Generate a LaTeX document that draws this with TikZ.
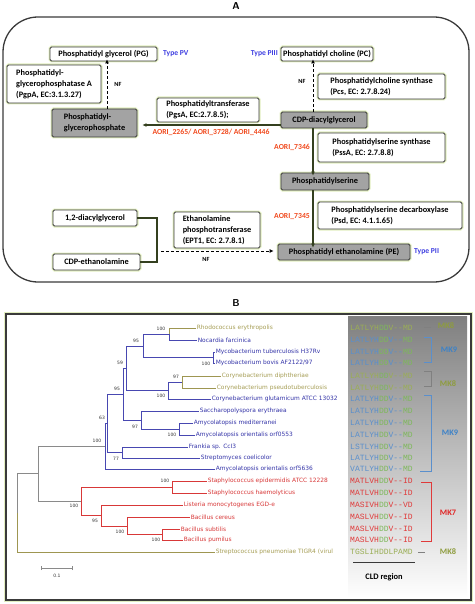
\documentclass[tikz,border=0pt]{standalone}
\usepackage{fontspec}
\setmainfont{Carlito}
\newfontfamily\treefont{DejaVu Sans}
\newfontfamily\seqfont{Liberation Mono}[Ligatures=TeXOff]
\usetikzlibrary{arrows.meta}
\definecolor{frame}{HTML}{3A3A3A}
\definecolor{glow}{HTML}{E2EEC0}
\definecolor{boxgray}{HTML}{A3A3A3}
\definecolor{arrowc}{HTML}{34401F}
\definecolor{aori}{HTML}{F04A1E}
\definecolor{typeblue}{HTML}{3F3FE0}
\definecolor{tblue}{HTML}{3434A8}
\definecolor{tolive}{HTML}{A69E55}
\definecolor{tred}{HTML}{D83838}
\definecolor{tgray}{HTML}{8A8A8A}
\definecolor{sblue}{HTML}{5A8FCC}
\definecolor{sgreen}{HTML}{7DB85A}
\definecolor{solive}{HTML}{9AAE55}
\definecolor{sred}{HTML}{E03A3A}
\definecolor{mkolive}{HTML}{8E9C3E}
\definecolor{mkblue}{HTML}{3C82C8}
\definecolor{mkred}{HTML}{E02424}
\definecolor{shade}{HTML}{EFEFEF}
\newcommand\seqviii[2]{\textcolor{solive}{#1}\textcolor{sgreen}{DD}\textcolor{solive}{#2}}
\newcommand\seqix[3]{\textcolor{sblue}{#1}\textcolor{sgreen}{DD}\textcolor{sblue}{#2}\textcolor{sgreen}{#3}}
\newcommand\seqvii[3]{\textcolor{sred}{#1}\textcolor{sgreen}{DD}\textcolor{sred}{#2#3}}
\begin{document}
\begin{tikzpicture}[x=1pt,y=-1pt,
  wbox/.style={draw=frame, fill=white, line width=0.8pt, rounded corners=1.5pt, inner sep=2pt, align=left,
     font=\fontsize{8.3}{11.2}\selectfont\bfseries, preaction={draw=glow, line width=3pt}},
  gbox/.style={wbox, fill=boxgray},
  arr/.style={draw=arrowc, line width=1.2pt, -{Latex[length=4pt,width=4pt]}},
  darr/.style={draw=black, line width=0.9pt, dash pattern=on 3pt off 2pt, -{Latex[length=4pt,width=4pt]}},
  redlbl/.style={text=aori, font=\fontsize{7.7}{8}\selectfont\bfseries, inner sep=0pt},
  typelbl/.style={text=typeblue, font=\fontsize{7.6}{8}\selectfont\bfseries, inner sep=0pt},
  nf/.style={font=\fontsize{6.3}{7}\selectfont\bfseries, inner sep=0pt},
  leaf/.style={anchor=west, inner sep=0.6pt, font=\treefont\fontsize{5.9}{6}\selectfont},
  bs/.style={inner sep=0pt, text=black!80, font=\treefont\fontsize{4.5}{5}\selectfont},
  sq/.style={anchor=west, inner sep=0pt, font=\seqfont\fontsize{8}{9}\selectfont},
  mk/.style={inner sep=0pt, font=\fontsize{8.4}{9}\selectfont\bfseries},
  bo/.style={draw=tolive!95!black, line width=0.9pt},
  bb/.style={draw=tblue!90, line width=0.9pt},
  br/.style={draw=tred, line width=0.9pt},
  bg/.style={draw=tgray, line width=0.9pt}
]
\useasboundingbox (0,0) rectangle (474,604);
% ---------------- Panel A ----------------
\node[font=\sffamily\bfseries\fontsize{10}{11}\selectfont, inner sep=0pt] (labA) at (236,6) {A};
\draw[frame, line width=1.3pt, rounded corners=35pt] (3,17) rectangle (469,282);

\node[wbox, minimum width=107pt, minimum height=14pt] (pg) at (103.5,54) {Phosphatidyl glycerol (PG)};
\node[wbox, minimum width=92pt, minimum height=14pt] (pc) at (327,54) {Phosphatidyl choline (PC)};
\node[wbox, minimum width=94pt, minimum height=38pt] (pgpa) at (54,84) {Phosphatidyl-\\glycerophosphatase A\\(PgpA, EC:3.1.3.27)};
\node[wbox, minimum width=127pt, minimum height=25pt] (pcs) at (381.5,86.5) {Phosphatidylcholine synthase\\(Pcs, EC: 2.7.8.24)};
\node[wbox, minimum width=102pt, minimum height=24pt] (pgsa) at (208,110) {Phosphatidyltransferase\\(PgsA, EC:2.7.8.5);};
\node[gbox, minimum width=85pt, minimum height=28pt] (pgp) at (94.5,123) {Phosphatidyl-\\glycerophosphate};
\node[gbox, minimum width=86pt, minimum height=16pt] (cdp) at (324,120) {CDP-diacylglycerol};
\node[wbox, minimum width=127pt, minimum height=29pt] (pssa) at (381.5,147.5) {Phosphatidylserine synthase\\(PssA, EC: 2.7.8.8)};
\node[gbox, minimum width=88pt, minimum height=17pt] (ps) at (325,181.5) {Phosphatidylserine};
\node[wbox, minimum width=144pt, minimum height=27pt] (psd) at (390,215.5) {Phosphatidylserine decarboxylase\\(Psd, EC: 4.1.1.65)};
\node[gbox, minimum width=132pt, minimum height=16pt] (pe) at (344,252) {Phosphatidyl ethanolamine (PE)};
\node[wbox, minimum width=84pt, minimum height=16pt] (dag) at (95,218) {1,2-diacylglycerol};
\node[wbox, minimum width=87pt, minimum height=16pt] (cdpe) at (96.5,262) {CDP-ethanolamine};
\node[wbox, minimum width=86pt, minimum height=36pt] (ept) at (217,230) {Ethanolamine\\phosphotransferase\\(EPT1, EC: 2.7.8.1)};

\node[typelbl, anchor=west] (tpv) at (163,54) {Type PV};
\node[typelbl, anchor=east] (tp3) at (278,54) {Type PIII};
\node[typelbl, anchor=west] (tp2) at (414,252) {Type PII};

\coordinate (vx) at (313,0);
\coordinate (px) at (107,0);
\coordinate (hy) at (0,125);
\coordinate (jn) at (157,240);
\coordinate (ds) at (161,251);

\draw[darr] (pgp.north -| px) -- ([yshift=2pt]pg.south -| px);
\draw[darr] (cdp.north -| vx) -- ([yshift=2pt]pc.south -| vx);
\draw[arr] (cdp.west |- hy) -- ([xshift=5pt]pgp.east |- hy);
\draw[arr] (cdp.south -| vx) -- ([yshift=-3pt]ps.north -| vx);
\draw[arr] (ps.south -| vx) -- ([yshift=-4pt]pe.north -| vx);
\draw[draw=arrowc, line width=1.4pt] (dag.east) -- (dag.east -| jn) -- (cdpe.east -| jn) -- (cdpe.east);
\draw[darr] (ds) -- ([xshift=-4pt]pe.west |- ds);

\node[nf] (nf1) at (118,84) {NF};
\node[nf] (nf2) at (302,81) {NF};
\node[nf] (nf3) at (206,259) {NF};
\node[redlbl] (r1) at (211,132) {AORI\_2265/ AORI\_3728/ AORI\_4446};
\node[redlbl] (r2) at (292,147) {AORI\_7346};
\node[redlbl] (r3) at (292,217) {AORI\_7345};

% ---------------- Panel B ----------------
\node[font=\sffamily\bfseries\fontsize{10}{11}\selectfont, inner sep=0pt] (labB) at (236,303) {B};
\draw[glow, line width=4pt] (6,314) rectangle (471,600);
\fill[white] (7,315) rectangle (470,599);
\fill[shade] (348,316) rectangle (467,598);
\draw[frame, line width=1.5pt] (6,314) rectangle (471,600);

% leaves
\coordinate (L1) at (196,328);  \coordinate (L2) at (197,340);
\coordinate (L3) at (215,352);  \coordinate (L4) at (215,363);
\coordinate (L5) at (221,376);  \coordinate (L6) at (216,388);
\coordinate (L7) at (211,399);  \coordinate (L8) at (199,411);
\coordinate (L9) at (193,423);  \coordinate (L10) at (195,435);
\coordinate (L11) at (188,447); \coordinate (L12) at (200,458);
\coordinate (L13) at (215,469); \coordinate (L14) at (207,481);
\coordinate (L15) at (207,493); \coordinate (L16) at (183,505);
\coordinate (L17) at (190,517); \coordinate (L18) at (180,529);
\coordinate (L19) at (183,540); \coordinate (L20) at (215,552);
% internal nodes
\coordinate (n12) at (169,334);
\coordinate (n34) at (213,357.5);
\coordinate (n1234) at (143,346);
\coordinate (n56) at (182,382);
\coordinate (n567) at (168,390.5);
\coordinate (n17) at (126,368);
\coordinate (n910) at (179,429);
\coordinate (n810) at (141,420);
\coordinate (n110) at (123,394);
\coordinate (n1112) at (122,452.5);
\coordinate (n63) at (107,423);
\coordinate (nblue) at (105,446);
\coordinate (n1415) at (172,487);
\coordinate (n1819) at (162,534.5);
\coordinate (n1719) at (127,526);
\coordinate (n1619) at (101,515.5);
\coordinate (nred) at (81,501);
\coordinate (nmain) at (38,473.5);
\coordinate (nroot) at (17,512.75);

\draw[bo] (n12) |- (L1);
\draw[bb] (n12) |- (L2);
\draw[bb] (n34) |- (L3);
\draw[bb] (n34) |- (L4);
\draw[bb] (n1234) |- (n12);
\draw[bb] (n1234) |- (n34);
\draw[bo] (n56) |- (L5);
\draw[bo] (n56) |- (L6);
\draw[bb] (n567) |- (n56);
\draw[bb] (n567) |- (L7);
\draw[bb] (n17) |- (n1234);
\draw[bb] (n17) |- (n567);
\draw[bb] (n910) |- (L9);
\draw[bb] (n910) |- (L10);
\draw[bb] (n810) |- (L8);
\draw[bb] (n810) |- (n910);
\draw[bb] (n110) |- (n17);
\draw[bb] (n110) |- (n810);
\draw[bb] (n1112) |- (L11);
\draw[bb] (n1112) |- (L12);
\draw[bb] (n63) |- (n110);
\draw[bb] (n63) |- (n1112);
\draw[bb] (nblue) |- (n63);
\draw[bb] (nblue) |- (L13);
\draw[br] (n1415) |- (L14);
\draw[br] (n1415) |- (L15);
\draw[br] (n1819) |- (L18);
\draw[br] (n1819) |- (L19);
\draw[br] (n1719) |- (L17);
\draw[br] (n1719) |- (n1819);
\draw[br] (n1619) |- (L16);
\draw[br] (n1619) |- (n1719);
\draw[br] (nred) |- (n1415);
\draw[br] (nred) |- (n1619);
\draw[bg] (nmain) |- (nblue);
\draw[bg] (nmain) |- (nred);
\draw[bg] (nroot) |- (nmain);
\draw[bo] (nroot) |- (L20);

% leaf labels
\node[leaf, text=tolive] (t1) at (L1) {Rhodococcus erythropolis};
\node[leaf, text=tblue] (t2) at (L2) {Nocardia farcinica};
\node[leaf, text=tblue] (t3) at (L3) {Mycobacterium tuberculosis H37Rv};
\node[leaf, text=tblue] (t4) at (L4) {Mycobacterium bovis AF2122/97};
\node[leaf, text=tolive] (t5) at (L5) {Corynebacterium diphtheriae};
\node[leaf, text=tolive] (t6) at (L6) {Corynebacterium pseudotuberculosis};
\node[leaf, text=tblue] (t7) at (L7) {Corynebacterium glutamicum ATCC 13032};
\node[leaf, text=tblue] (t8) at (L8) {Saccharopolyspora erythraea};
\node[leaf, text=tblue] (t9) at (L9) {Amycolatopsis mediterranei};
\node[leaf, text=tblue] (t10) at (L10) {Amycolatopsis orientalis orf0553};
\node[leaf, text=tblue] (t11) at (L11) {Frankia sp. CcI3};
\node[leaf, text=tblue] (t12) at (L12) {Streptomyces coelicolor};
\node[leaf, text=tblue] (t13) at (L13) {Amycolatopsis orientalis orf5636};
\node[leaf, text=tred] (t14) at (L14) {Staphylococcus epidermidis ATCC 12228};
\node[leaf, text=tred] (t15) at (L15) {Staphylococcus haemolyticus};
\node[leaf, text=tred] (t16) at (L16) {Listeria monocytogenes EGD-e};
\node[leaf, text=tred] (t17) at (L17) {Bacillus cereus};
\node[leaf, text=tred] (t18) at (L18) {Bacillus subtilis};
\node[leaf, text=tred] (t19) at (L19) {Bacillus pumilus};
\node[leaf, text=tolive] (t20) at (L20) {Streptococcus pneumoniae TIGR4 (virul};

% bootstrap values
\node[bs] (b1) at (161,329) {100};
\node[bs] (b2) at (206,364) {100};
\node[bs] (b3) at (136,341) {95};
\node[bs] (b4) at (176,377) {97};
\node[bs] (b5) at (161,396) {100};
\node[bs] (b6) at (120,363) {59};
\node[bs] (b7) at (172,435) {100};
\node[bs] (b8) at (135,427) {97};
\node[bs] (b9) at (117,389) {95};
\node[bs] (b10) at (116,459) {77};
\node[bs] (b11) at (102,418) {63};
\node[bs] (b12) at (97,441) {100};
\node[bs] (b13) at (165,481) {100};
\node[bs] (b14) at (156,540) {100};
\node[bs] (b15) at (120,532) {100};
\node[bs] (b16) at (95,521) {95};
\node[bs] (b17) at (74,506) {100};

% scale bar
\coordinate (sb1) at (41,568);
\coordinate (sb2) at (72,568);
\draw[tgray, line width=0.7pt] (sb1) -- (sb2);
\draw[tgray, line width=0.7pt] ([yshift=-2pt]sb1) -- ([yshift=2pt]sb1);
\draw[tgray, line width=0.7pt] ([yshift=-2pt]sb2) -- ([yshift=2pt]sb2);
\node[bs] (sbl) at (57,576) {0.1};

% sequences
\node[sq] (s1) at (350,328) {\seqviii{LATLYH}{V--MD}};
\node[sq] (s2) at (350,340) {\seqix{LATLYH}{V--}{MD}};
\node[sq] (s3) at (350,352) {\seqix{LATLYH}{V--}{MD}};
\node[sq] (s4) at (350,363) {\seqix{LATLYH}{V--}{MD}};
\node[sq] (s5) at (350,376) {\seqviii{LATLYH}{V--MD}};
\node[sq] (s6) at (350,388) {\seqviii{LATLYH}{V--MD}};
\node[sq] (s7) at (350,399) {\seqix{LATLYH}{V--}{MD}};
\node[sq] (s8) at (350,411) {\seqix{LATLYH}{V--}{MD}};
\node[sq] (s9) at (350,423) {\seqix{LATLYH}{V--}{MD}};
\node[sq] (s10) at (350,435) {\seqix{LATLYH}{V--}{MD}};
\node[sq] (s11) at (350,447) {\seqix{LSTLYH}{V--}{MD}};
\node[sq] (s12) at (350,458) {\seqix{LATLYH}{V--}{MD}};
\node[sq] (s13) at (350,469) {\seqix{VATLYH}{V--}{MD}};
\node[sq] (s14) at (350,481) {\seqvii{MATLVH}{V--}{ID}};
\node[sq] (s15) at (350,493) {\seqvii{MATLVH}{V--}{ID}};
\node[sq] (s16) at (350,505) {\seqvii{MASIVH}{V--}{VD}};
\node[sq] (s17) at (350,517) {\seqvii{MASLVH}{V--}{ID}};
\node[sq] (s18) at (350,529) {\seqvii{MASLVH}{V--}{ID}};
\node[sq] (s19) at (350,540) {\seqvii{MASLVH}{V--}{ID}};
\node[sq] (s20) at (350,552) {\textcolor{solive}{TGSLIHDDLPAMD}};

% brackets and MK labels
\draw[gray, line width=0.6pt] (424,327) -- (431,327);
\draw[sblue, line width=0.7pt] (424,337) -| (431,362) -- (424,362);
\draw[gray, line width=0.6pt] (424,371) -| (431,386) -- (424,386);
\draw[sblue, line width=0.7pt] (424,395) -| (431,471) -- (420,471);
\draw[sred, line width=0.7pt] (421,482) -| (431,541) -- (421,541);
\draw[gray, line width=0.6pt] (418,552) -- (425,552);
\node[mk, text=mkolive] (mk1) at (446,326) {MK8};
\node[mk, text=mkblue] (mk2) at (449,350) {MK9};
\node[mk, text=mkolive] (mk3) at (448,384) {MK8};
\node[mk, text=mkblue] (mk4) at (450,433) {MK9};
\node[mk, text=mkred] (mk5) at (448,513) {MK7};
\node[mk, text=mkolive] (mk6) at (448,552) {MK8};
\draw[frame, line width=0.8pt] (353,562) -- (415,562);
\node[mk, text=black] (cld) at (384,577) {CLD region};
\end{tikzpicture}
\end{document}
